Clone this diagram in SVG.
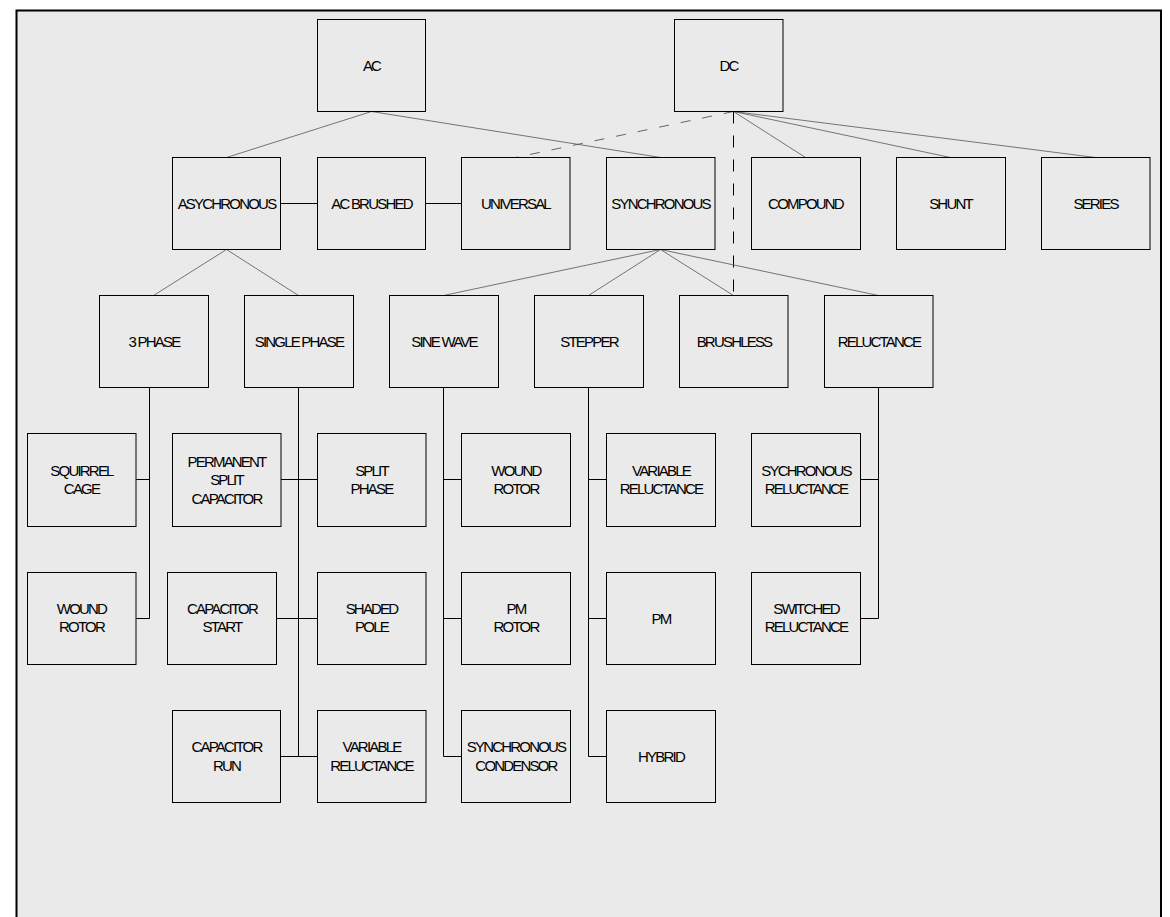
<svg xmlns="http://www.w3.org/2000/svg" width="1170" height="917" viewBox="0 0 1170 917">
<style>
.frame{fill:#eaeaea;stroke:#000;stroke-width:2}
.box rect{fill:#eaeaea;stroke:#000;stroke-width:1}
.box text{font-family:"Liberation Sans",Arial,sans-serif;font-size:15px;letter-spacing:-1.8px;fill:#000;text-anchor:middle}
.tree{fill:none;stroke:#000;stroke-width:1}
.diag{fill:none;stroke:#555;stroke-width:0.8}
.dash{fill:none;stroke:#555;stroke-width:0.9;stroke-dasharray:10 12}
.vdash{fill:none;stroke:#000;stroke-width:1;stroke-dasharray:12 12}
</style>
<rect class="frame" x="16.5" y="10.5" width="1144.5" height="1000"/>
<g id="connectors">
<path class="diag" d="M371.5 111.5 L226.5 157.5 M371.5 111.5 L660.5 157.5"/>
<path class="dash" d="M733.5 111.5 L515.5 157.5"/>
<path class="vdash" d="M733.5 111.5 V295.5"/>
<path class="diag" d="M733.5 111.5 L805.5 157.5 M733.5 111.5 L950.5 157.5 M733.5 111.5 L1095.5 157.5"/>
<path class="diag" d="M226.5 249.5 L153.5 295.5 M226.5 249.5 L298.5 295.5"/>
<path class="diag" d="M660.5 249.5 L443.5 295.5 M660.5 249.5 L588.5 295.5 M660.5 249.5 L733.5 295.5 M660.5 249.5 L878.5 295.5"/>
<path class="tree" d="M280.5 203.5 H317.5 M425.5 203.5 H461.5"/>
<path class="tree" d="M149.5 387.5 V618.5 M136 479.5 H149.5 M136 618.5 H149.5"/>
<path class="tree" d="M298.5 387.5 V756.5 M281 479.5 H317.5 M276 618.5 H317.5 M281 756.5 H317.5"/>
<path class="tree" d="M443.5 387.5 V756.5 M443.5 479.5 H461.5 M443.5 618.5 H461.5 M443.5 756.5 H461.5"/>
<path class="tree" d="M588.5 387.5 V756.5 M588.5 479.5 H606.5 M588.5 618.5 H606.5 M588.5 756.5 H606.5"/>
<path class="tree" d="M878.5 387.5 V618.5 M860 479.5 H878.5 M860 618.5 H878.5"/>
</g>
<g id="n-ac" class="box"><rect x="317.5" y="19.5" width="108" height="92"/><text x="371.5" y="71">AC</text></g>
<g id="n-dc" class="box"><rect x="674.5" y="19.5" width="108.5" height="92"/><text x="728.5" y="71">DC</text></g>
<g id="n-asych" class="box"><rect x="172.5" y="157.5" width="108" height="92"/><text x="226.5" y="209">ASYCHRONOUS</text></g>
<g id="n-acbrushed" class="box"><rect x="317.5" y="157.5" width="108" height="92"/><text x="371.5" y="209">AC BRUSHED</text></g>
<g id="n-universal" class="box"><rect x="461.5" y="157.5" width="108.5" height="92"/><text x="515.5" y="209">UNIVERSAL</text></g>
<g id="n-synchronous" class="box"><rect x="606.5" y="157.5" width="108.5" height="92"/><text x="660.5" y="209">SYNCHRONOUS</text></g>
<g id="n-compound" class="box"><rect x="751.5" y="157.5" width="109" height="92"/><text x="805.5" y="209">COMPOUND</text></g>
<g id="n-shunt" class="box"><rect x="896.5" y="157.5" width="109" height="92"/><text x="950.5" y="209">SHUNT</text></g>
<g id="n-series" class="box"><rect x="1041.5" y="157.5" width="108.5" height="92"/><text x="1095.5" y="209">SERIES</text></g>
<g id="n-3phase" class="box"><rect x="99.5" y="295.5" width="109" height="92"/><text x="154" y="347">3 PHASE</text></g>
<g id="n-singlephase" class="box"><rect x="244.5" y="295.5" width="109" height="92"/><text x="299" y="347">SINGLE PHASE</text></g>
<g id="n-sinewave" class="box"><rect x="389.5" y="295.5" width="109" height="92"/><text x="444" y="347">SINE WAVE</text></g>
<g id="n-stepper" class="box"><rect x="534.5" y="295.5" width="109" height="92"/><text x="589" y="347">STEPPER</text></g>
<g id="n-brushless" class="box"><rect x="679.5" y="295.5" width="108.5" height="92"/><text x="734" y="347">BRUSHLESS</text></g>
<g id="n-reluctance" class="box"><rect x="824.5" y="295.5" width="108.5" height="92"/><text x="879" y="347">RELUCTANCE</text></g>
<g id="n-squirrel" class="box"><rect x="27.5" y="433.5" width="108.5" height="93"/><text x="81.5" y="475.5">SQUIRREL</text><text x="81.5" y="494">CAGE</text></g>
<g id="n-psc" class="box"><rect x="172.5" y="433.5" width="108.5" height="93"/><text x="226.5" y="466.5">PERMANENT</text><text x="226.5" y="485">SPLIT</text><text x="226.5" y="503.5">CAPACITOR</text></g>
<g id="n-splitphase" class="box"><rect x="317.5" y="433.5" width="108.5" height="93"/><text x="371.5" y="475.5">SPLIT</text><text x="371.5" y="494">PHASE</text></g>
<g id="n-woundrotor2" class="box"><rect x="461.5" y="433.5" width="109" height="93"/><text x="516" y="475.5">WOUND</text><text x="516" y="494">ROTOR</text></g>
<g id="n-varrel1" class="box"><rect x="606.5" y="433.5" width="109" height="93"/><text x="661" y="475.5">VARIABLE</text><text x="661" y="494">RELUCTANCE</text></g>
<g id="n-sychrel" class="box"><rect x="751.5" y="433.5" width="109" height="93"/><text x="806" y="475.5">SYCHRONOUS</text><text x="806" y="494">RELUCTANCE</text></g>
<g id="n-woundrotor1" class="box"><rect x="27.5" y="572.5" width="108.5" height="92"/><text x="81.5" y="613.5">WOUND</text><text x="81.5" y="632">ROTOR</text></g>
<g id="n-capstart" class="box"><rect x="167.5" y="572.5" width="109" height="92"/><text x="222" y="613.5">CAPACITOR</text><text x="222" y="632">START</text></g>
<g id="n-shadedpole" class="box"><rect x="317.5" y="572.5" width="108.5" height="92"/><text x="371.5" y="613.5">SHADED</text><text x="371.5" y="632">POLE</text></g>
<g id="n-pmrotor" class="box"><rect x="461.5" y="572.5" width="109" height="92"/><text x="516" y="613.5">PM</text><text x="516" y="632">ROTOR</text></g>
<g id="n-pm" class="box"><rect x="606.5" y="572.5" width="109" height="92"/><text x="661" y="623.5">PM</text></g>
<g id="n-switchedrel" class="box"><rect x="751.5" y="572.5" width="109" height="92"/><text x="806" y="613.5">SWITCHED</text><text x="806" y="632">RELUCTANCE</text></g>
<g id="n-caprun" class="box"><rect x="172.5" y="710.5" width="108" height="92"/><text x="226.5" y="752">CAPACITOR</text><text x="226.5" y="770.5">RUN</text></g>
<g id="n-varrel2" class="box"><rect x="317.5" y="710.5" width="108.5" height="92"/><text x="371.5" y="752">VARIABLE</text><text x="371.5" y="770.5">RELUCTANCE</text></g>
<g id="n-synccond" class="box"><rect x="461.5" y="710.5" width="109" height="92"/><text x="516" y="752">SYNCHRONOUS</text><text x="516" y="770.5">CONDENSOR</text></g>
<g id="n-hybrid" class="box"><rect x="606.5" y="710.5" width="109" height="92"/><text x="661" y="762">HYBRID</text></g>
</svg>
